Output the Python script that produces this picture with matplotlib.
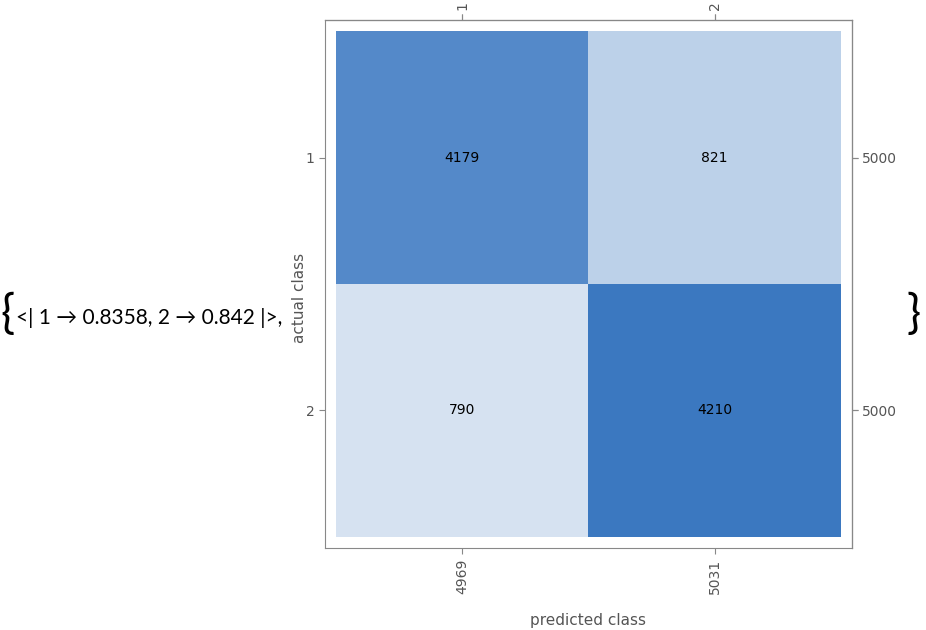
import matplotlib
matplotlib.use("Agg")
import matplotlib.pyplot as plt
from matplotlib.colors import to_rgb
import numpy as np

classes = ["1", "2"]
matrix = [[4179, 821], [790, 4210]]
col_totals = [4969, 5031]
row_totals = [5000, 5000]
cell_colors = [["#5489c9", "#bcd1e9"], ["#d6e2f1", "#3b78c0"]]
assoc_text = "<| 1 → 0.8358, 2 → 0.842 |>,"

fig = plt.figure(figsize=(9.26, 6.3), dpi=100)
W, H = 926, 630
ax = fig.add_axes([325/W, 1-548/H, 527/W, 528/H])
img = np.array([[to_rgb(c) for c in row] for row in cell_colors])
ax.imshow(img, extent=(-0.5, 1.5, 1.5, -0.5), aspect="auto", interpolation="nearest")
m = 11/505*2
ax.set_xlim(-0.5-m, 1.5+m)
ax.set_ylim(1.5+m, -0.5-m)
for i in range(2):
    for j in range(2):
        ax.text(j, i, str(matrix[i][j]), ha="center", va="center", fontsize=10, color="black")
gray = "#555555"
for s in ax.spines.values():
    s.set_color("#888888")
ax.set_xticks(range(2))
ax.set_xticklabels([str(v) for v in col_totals], rotation=90, color=gray, fontsize=10)
ax.set_yticks(range(2))
ax.set_yticklabels(classes, color=gray, fontsize=10)
ax.tick_params(length=4, color="#888888", top=True, right=True)
axt = ax.secondary_xaxis("top")
axt.set_xticks(range(2))
axt.set_xticklabels(classes, rotation=90, color=gray, fontsize=10)
axt.tick_params(length=4, color="#888888")
axr = ax.secondary_yaxis("right")
axr.set_yticks(range(2))
axr.set_yticklabels([str(v) for v in row_totals], color=gray, fontsize=10)
axr.tick_params(length=4, color="#888888")
fig.text(588/W, 1-621/H, "predicted class", color=gray, fontsize=11, ha="center", va="center")
fig.text(299/W, 1-298/H, "actual class", color=gray, fontsize=11, ha="center", va="center", rotation=90)

fig.text(0/W, 1-314/H, "{", fontsize=34, va="center", ha="left", family="Lato")
fig.text(16/W, 1-318/H, assoc_text, fontsize=15, va="center", ha="left", family=["Lato", "DejaVu Sans"])
fig.text(906/W, 1-314/H, "}", fontsize=34, va="center", ha="left", family="Lato")
fig.savefig("out.png", dpi=100)
